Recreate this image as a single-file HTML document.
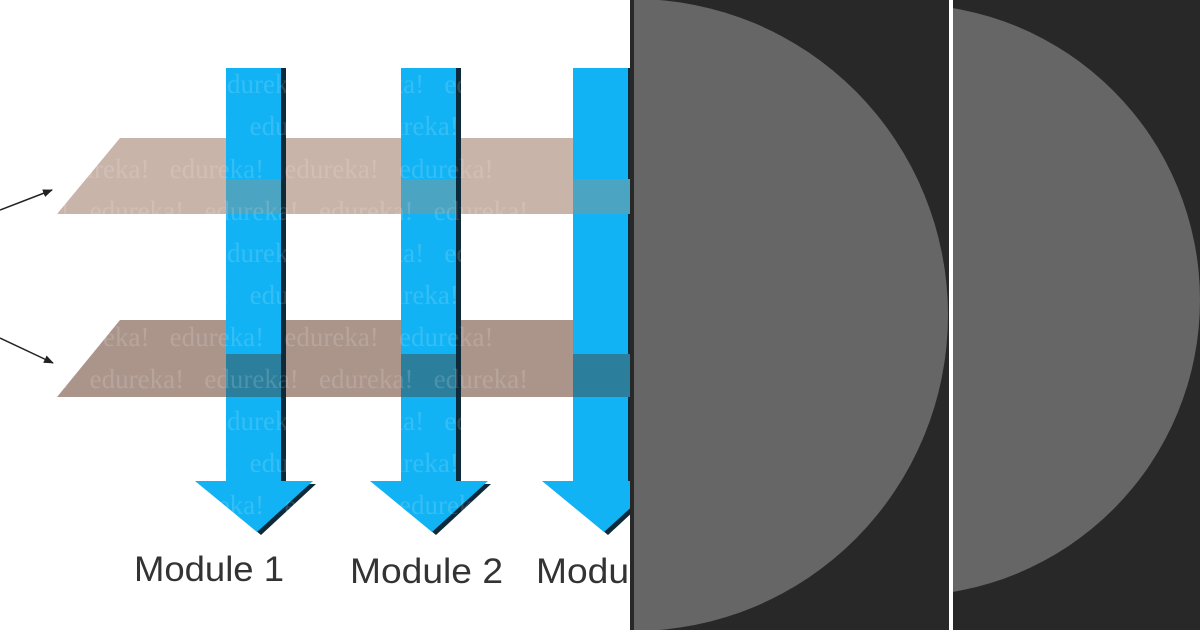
<!DOCTYPE html>
<html><head><meta charset="utf-8"><style>
html,body{margin:0;padding:0;width:1200px;height:630px;overflow:hidden;background:#fff}
svg{display:block}
.wm text{white-space:pre}
</style></head><body>
<svg width="1200" height="630" viewBox="0 0 1200 630" xmlns="http://www.w3.org/2000/svg">
<defs>
<clipPath id="lp"><rect x="0" y="0" width="630" height="630"/></clipPath>
<clipPath id="c1"><rect x="634" y="0" width="315" height="630"/></clipPath>
<clipPath id="c2"><rect x="953" y="0" width="247" height="630"/></clipPath>
<marker id="ah" markerWidth="10" markerHeight="8" refX="9" refY="4" orient="auto" markerUnits="userSpaceOnUse"><path d="M0,0 L10,4 L0,8 Z" fill="#222"/></marker>
</defs>
<rect x="0" y="0" width="1200" height="630" fill="#fff"/>
<g clip-path="url(#lp)">
  <polygon points="120,138 640,138 640,214 57,214" fill="#c9b4aa"/>
  <polygon points="120,320 640,320 640,397 57,397" fill="#ab958b"/>
  <g>
    <g>
      <polygon points="230,68 286,68 286,484 316,484 261,535 200,484 230,484" fill="#0d2a3a"/>
      <polygon points="226,68 281,68 281,481 313,481 257,532 195,481 226,481" fill="#11b3f4"/>
    </g>
    <g transform="translate(175,0)">
      <polygon points="230,68 286,68 286,484 316,484 261,535 200,484 230,484" fill="#0d2a3a"/>
      <polygon points="226,68 281,68 281,481 313,481 257,532 195,481 226,481" fill="#11b3f4"/>
    </g>
    <g transform="translate(347,0)">
      <polygon points="230,68 286,68 286,484 316,484 261,535 200,484 230,484" fill="#0d2a3a"/>
      <polygon points="226,68 281,68 281,481 313,481 257,532 195,481 226,481" fill="#11b3f4"/>
    </g>
  </g>
  <rect x="226" y="179" width="55" height="35" fill="#4ba4c2"/>
  <rect x="401" y="179" width="55" height="35" fill="#4ba4c2"/>
  <rect x="573" y="179" width="57" height="35" fill="#4ba4c2"/>
  <rect x="226" y="354" width="55" height="43" fill="#2c7f9c"/>
  <rect x="401" y="354" width="55" height="43" fill="#2c7f9c"/>
  <rect x="573" y="354" width="57" height="43" fill="#2c7f9c"/>
  <g class="wm" font-family="'Liberation Serif',serif" font-size="27" fill="#fff" fill-opacity="0.15">
    <text x="215" y="93">edureka!   edureka!   edureka!</text>
    <text x="135" y="135">edureka!   edureka!   edureka!   edureka!</text>
    <text x="55" y="178">edureka!   edureka!   edureka!   edureka!</text>
    <text x="-25" y="220">edureka!   edureka!   edureka!   edureka!   edureka!</text>
    <text x="215" y="262">edureka!   edureka!   edureka!</text>
    <text x="135" y="304">edureka!   edureka!   edureka!   edureka!</text>
    <text x="55" y="346">edureka!   edureka!   edureka!   edureka!</text>
    <text x="-25" y="388">edureka!   edureka!   edureka!   edureka!   edureka!</text>
    <text x="215" y="430">edureka!   edureka!   edureka!</text>
    <text x="135" y="472">edureka!   edureka!   edureka!   edureka!</text>
    <text x="55" y="514">edureka!   edureka!   edureka!   edureka!</text>
  </g>
  <line x1="0" y1="210" x2="52" y2="190" stroke="#222" stroke-width="1.5" marker-end="url(#ah)"/>
  <line x1="0" y1="338" x2="53" y2="363" stroke="#222" stroke-width="1.5" marker-end="url(#ah)"/>
  <g font-family="'Liberation Sans','DejaVu Sans',sans-serif" font-size="35" fill="#333">
    <text x="134" y="581" textLength="150" lengthAdjust="spacingAndGlyphs">Module 1</text>
    <text x="350" y="583" textLength="153" lengthAdjust="spacingAndGlyphs">Module 2</text>
    <text x="536" y="583" textLength="153" lengthAdjust="spacingAndGlyphs">Module 3</text>
  </g>
</g>
<rect x="630" y="0" width="570" height="630" fill="#282828"/>
<ellipse cx="634" cy="315" rx="314" ry="316" fill="#666" clip-path="url(#c1)"/>
<rect x="949" y="0" width="4" height="630" fill="#fff"/>
<circle cx="904" cy="300" r="296" fill="#666" clip-path="url(#c2)"/>
</svg>
</body></html>
